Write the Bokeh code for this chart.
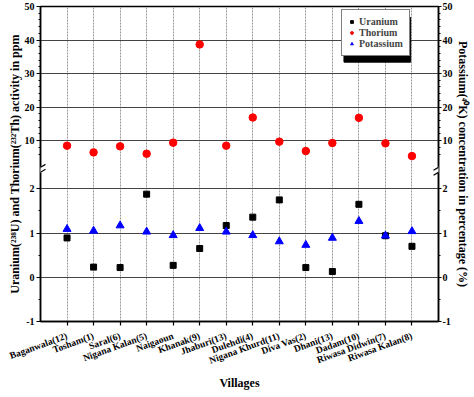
import math
from bokeh.plotting import figure
from bokeh.models import (Range1d, LinearAxis, FixedTicker, Legend, LegendItem,
                          Arrow, ColumnDataSource)
from bokeh.embed import file_html
from bokeh.resources import INLINE

villages = ["Baganwala(12)", "Tosham(1)", "Saral(6)", "Nigana Kalan(5)", "Naigaoun",
            "Khanak(9)", "Jhaburi(13)", "Dulehdi(4)", "Nigana Khurd(11)", "Diva Vas(2)",
            "Dhani(13)", "Dadam(10)", "Riwasa Didwin(7)", "Riwasa Kalan(8)"]
uranium = [0.89, 0.23, 0.22, 1.88, 0.27, 0.65, 1.17, 1.36, 1.75, 0.22, 0.13, 1.65, 0.94, 0.70]
thorium = [8.5, 6.5, 8.3, 6.1, 9.4, 38.7, 8.5, 16.9, 9.7, 6.9, 9.3, 16.8, 9.2, 5.4]
potassium = [1.09, 1.05, 1.17, 1.03, 0.95, 1.11, 1.03, 0.95, 0.81, 0.73, 0.89, 1.27, 0.94, 1.04]

lower_ticks = [-1, 0, 1, 2]
lower_minor = [-0.5, 0.5, 1.5]
upper_ticks = [10, 20, 30, 40, 50]
upper_minor = [6, 8, 12, 14, 16, 18, 22, 24, 26, 28, 32, 34, 36, 38, 42, 44, 46, 48]

# layout (figure pixels)
W, H = 472, 393
FL, FR, FT, FB = 40, 440, 6, 323

# lower segment scale (U, K) and upper segment scale (Th) share one frame
L0, L1 = -1.0, 6.124
U0, U1 = -43.93, 50.0
BREAK = 2.43
X0, X1 = -1, len(villages)

def to_lower(v):
    return L0 + (v - U0) * (L1 - L0) / (U1 - U0)

FONT = "Liberation Serif"

p = figure(width=W, height=H, output_backend="svg", toolbar_location=None,
           x_range=Range1d(X0, X1), y_range=Range1d(L0, L1),
           min_border_left=FL, min_border_right=W - FR, min_border_top=FT,
           min_border_bottom=H - FB)
p.extra_y_ranges = {"upper": Range1d(U0, U1)}
p.outline_line_color = "black"
p.outline_line_width = 1.5

xs = list(range(len(villages)))
src = ColumnDataSource(dict(x=xs, u=uranium, th=thorium, k=potassium))

tick_pos = list(lower_ticks) + [to_lower(v) for v in upper_ticks]
minor_pos = list(lower_minor) + [to_lower(v) for v in upper_minor]
labels = {float(t): str(t) for t in lower_ticks}
labels.update({to_lower(v): str(v) for v in upper_ticks})
yticker = FixedTicker(ticks=tick_pos, minor_ticks=minor_pos)

p.yaxis.visible = False
left = LinearAxis(ticker=yticker, major_label_overrides=labels,
                  axis_label="Uranium(\u00b2\u00b3\u2078U) and Thorium(\u00b2\u00b3\u00b2Th) activity in ppm")
right = LinearAxis(ticker=yticker, major_label_overrides=labels,
                   axis_label="Potassium(\u2074\u2070K) concentration in percentage (%)")
p.add_layout(left, "left")
p.add_layout(right, "right")

for ax in (left, right, p.xaxis[0]):
    ax.major_label_text_font = FONT
    ax.major_label_text_font_style = "bold"
    ax.major_label_text_font_size = "10px"
    ax.major_label_text_color = "black"
    ax.axis_label_text_font = FONT
    ax.axis_label_text_font_style = "bold"
    ax.axis_label_text_font_size = "12px"
    ax.axis_label_text_color = "black"
    ax.axis_line_width = 1.5
    ax.major_tick_line_width = 1.2
    ax.major_tick_out = 4
    ax.major_tick_in = 0
    ax.minor_tick_out = 2
    ax.minor_tick_in = 0
    ax.major_label_standoff = 2
    ax.axis_label_standoff = 2

left.axis_label_standoff = 0
right.major_tick_out = 3
right.major_label_standoff = 1
right.axis_label_standoff = 0

xax = p.xaxis[0]
xax.ticker = FixedTicker(ticks=xs, minor_ticks=[])
xax.major_label_overrides = {i: v for i, v in enumerate(villages)}
xax.major_label_orientation = math.radians(20)
xax.major_label_text_font_size = "9.5px"
xax.major_label_standoff = 10
xax.axis_label = "Villages"
xax.axis_label_standoff = 3

p.ygrid.ticker = FixedTicker(ticks=tick_pos)
p.ygrid.grid_line_color = "#444444"
p.ygrid.grid_line_width = 1
p.xgrid.ticker = FixedTicker(ticks=xs)
p.xgrid.grid_line_color = "#999999"
p.xgrid.grid_line_dash = "2 1"
p.xgrid.grid_line_width = 1

# pixel helpers for decorations
pxx = (X1 - X0) / (FR - FL)
pxy = (L1 - L0) / (FB - FT)
def sx(px):
    return X0 + (px - FL) * pxx
def sy(py):
    return L0 + (FB - py) * pxy

# legend box: left 341, right 408, top 13, bottom 58 -> shadow offset by 4px
p.quad(left=[sx(345)], right=[sx(412)], top=[sy(17)], bottom=[sy(62)],
       fill_color="black", line_color="black")

ru = p.scatter("x", "u", source=src, marker="square", size=6, color="black")
rt = p.scatter("x", "th", source=src, marker="circle", size=7.5, color="#ff0000",
               y_range_name="upper")
rk = p.scatter("x", "k", source=src, marker="triangle", size=8, color="#0000ff")

legend = Legend(items=[LegendItem(label="Uranium", renderers=[ru]),
                       LegendItem(label="Thorium", renderers=[rt]),
                       LegendItem(label="Potassium", renderers=[rk])],
                location=(341 - FL, FB - 58))
legend.label_text_font = FONT
legend.label_text_font_style = "bold"
legend.label_text_font_size = "10px"
legend.label_height = 11
legend.glyph_height = 9
legend.glyph_width = 7
legend.label_standoff = 4
legend.spacing = 0
legend.padding = 6
legend.margin = 0
legend.border_line_color = "black"
legend.border_line_width = 1
legend.background_fill_alpha = 1
p.add_layout(legend, "center")

# axis break marks
for xa in (X0, X1):
    p.add_layout(Arrow(end=None, x_start=xa, y_start=BREAK - 3 * pxy, x_end=xa,
                       y_end=BREAK + 3 * pxy, line_color="white", line_width=4))
    for off in (-2.5, 2.5):
        p.add_layout(Arrow(end=None, x_start=xa - 5 * pxx, y_start=BREAK + (off - 3) * pxy,
                           x_end=xa + 5 * pxx, y_end=BREAK + (off + 3) * pxy,
                           line_color="black", line_width=1.2))

open("out.html", "w").write(file_html(p, INLINE))
